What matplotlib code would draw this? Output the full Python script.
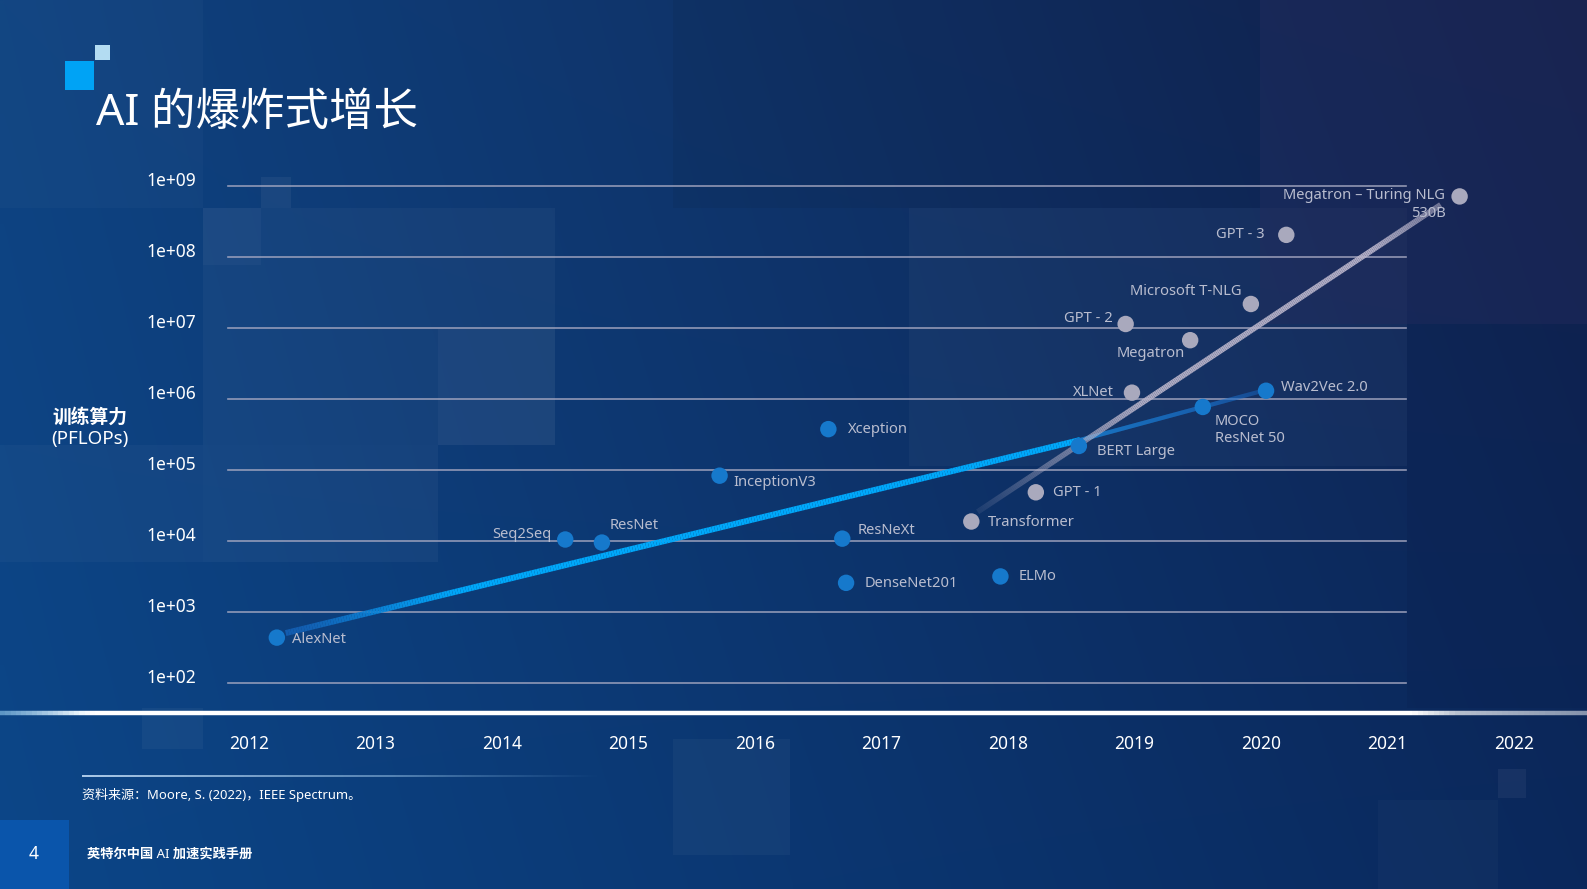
import matplotlib
matplotlib.use('Agg')
import matplotlib.pyplot as plt
import numpy as np
from matplotlib.collections import LineCollection
from matplotlib.patches import Rectangle
from matplotlib.colors import to_rgba

plt.rcParams['font.family'] = ['Noto Sans', 'Noto Sans CJK SC', 'DejaVu Sans']

# ---- data: year, training compute (PFLOPs) ----
blue_names = ['AlexNet', 'Seq2Seq', 'ResNet', 'InceptionV3', 'Xception', 'ResNeXt',
              'DenseNet201', 'ELMo', 'BERT Large', 'MOCO\nResNet 50', 'Wav2Vec 2.0']
blue_years = [2012.22, 2014.50, 2014.79, 2015.72, 2016.58, 2016.69,
              2016.72, 2017.94, 2018.56, 2019.54, 2020.04]
blue_pflops = [4.4e2, 1.06e4, 9.6e3, 8.4e4, 3.8e5, 1.09e4,
               2.6e3, 3.2e3, 2.2e5, 7.8e5, 1.32e6]

gray_names = ['Transformer', 'GPT - 1', 'XLNet', 'GPT - 2', 'Megatron',
              'Microsoft T-NLG', 'GPT - 3', 'Megatron – Turing NLG\n530B']
gray_years = [2017.71, 2018.22, 2018.98, 2018.93, 2019.44, 2019.92, 2020.20, 2021.57]
gray_pflops = [1.9e4, 4.9e4, 1.24e6, 1.15e7, 6.8e6, 2.2e7, 2.07e8, 7.2e8]

# trend lines
blue_trend_years = [2012.29, 2018.57, 2019.98]
blue_trend_pflops = [5.1e2, 2.67e5, 1.27e6]
gray_trend_years = [2017.76, 2021.42]
gray_trend_pflops = [2.6e4, 5.5e8]

x_ticks = list(range(2012, 2023))
y_ticks = [1e2, 1e3, 1e4, 1e5, 1e6, 1e7, 1e8, 1e9]
y_tick_labels = ['1e+02', '1e+03', '1e+04', '1e+05', '1e+06', '1e+07', '1e+08', '1e+09']

# label offsets (pixels, right/up) and alignment
blue_offsets = [(15, -2), (-14, 5), (8, 17), (14, -7), (19, 0), (15, 8),
                (18, -1), (18, 0), (18, -5), (12, -23), (15, 3)]
blue_ha = ['left', 'right', 'left', 'left', 'left', 'left',
           'left', 'left', 'left', 'left', 'left']
gray_offsets = [(16, -1), (17, 0), (-18, 0), (-13, 5), (-5, -13), (-9, 12), (-21, 0), (-14, -8)]
gray_ha = ['left', 'left', 'right', 'right', 'right', 'right', 'right', 'right']

W, H = 1587, 889
fig = plt.figure(figsize=(W / 100, H / 100), dpi=100)

# ---- background ----
bg = fig.add_axes([0, 0, 1, 1], zorder=0)
bg.set_xlim(0, W)
bg.set_ylim(H, 0)
bg.axis('off')
tl = np.array([14, 66, 128]) / 255
tr = np.array([18, 34, 78]) / 255
bl = np.array([12, 70, 136]) / 255
br = np.array([10, 40, 92]) / 255
gx = np.linspace(0, 1, 200)[None, :, None]
gy = np.linspace(0, 1, 120)[:, None, None]
grad = (1 - gy) * ((1 - gx) * tl + gx * tr) + gy * ((1 - gx) * bl + gx * br)
bg.imshow(grad, extent=(0, W, H, 0), aspect='auto', interpolation='bilinear')

blocks = [
    (0, 0, 203, 208, 'white', 0.025),
    (203, 208, 555, 445, 'white', 0.035),
    (261, 177, 291, 208, 'white', 0.05),
    (203, 208, 261, 265, 'white', 0.03),
    (438, 329, 555, 445, 'white', 0.03),
    (0, 445, 203, 562, 'white', 0.03),
    (203, 445, 438, 562, 'white', 0.04),
    (909, 208, 1407, 466, 'white', 0.03),
    (673, 0, 1260, 208, 'black', 0.05),
    (1260, 0, W, 324, '#2a2a5a', 0.3),
    (1407, 324, W, 708, '#0a1a45', 0.15),
    (673, 739, 790, 855, 'white', 0.035),
    (142, 708, 203, 749, 'white', 0.04),
    (1378, 800, 1498, H, 'white', 0.025),
    (1498, 769, 1526, 798, 'white', 0.05),
]
for x0, y0, x1, y1, c, a in blocks:
    bg.add_patch(Rectangle((x0, y0), x1 - x0, y1 - y0, color=c, alpha=a, lw=0))

# logo squares
bg.add_patch(Rectangle((65, 61), 29, 29, color='#00a3f5', lw=0))
bg.add_patch(Rectangle((95, 45), 15, 15, color='#b3dcf2', lw=0))

# page box
bg.add_patch(Rectangle((0, 820), 69, 69, color='#0a55ab', lw=0))


def fade_line(ax, x0, y0, x1, y1, c0, c1, c_t, a_t, a_v, lw, n=300, log=False):
    t = np.linspace(0, 1, n + 1)
    xs = x0 + t * (x1 - x0)
    if log:
        ly0, ly1 = np.log10(y0), np.log10(y1)
        ys = 10 ** (ly0 + t * (ly1 - ly0))
    else:
        ys = y0 + t * (y1 - y0)
    pts = np.column_stack([xs, ys])
    segs = np.stack([pts[:-1], pts[1:]], axis=1)
    tm = (t[:-1] + t[1:]) / 2
    ca, cb = np.array(to_rgba(c0)), np.array(to_rgba(c1))
    f = np.interp(tm, c_t, [0, 1])[:, None]
    cols = (1 - f) * ca + f * cb
    cols[:, 3] = np.interp(tm, a_t, a_v)
    lc = LineCollection(segs, colors=cols, linewidths=lw, capstyle='butt')
    ax.add_collection(lc)
    return lc


# bottom axis line and footer line (pixel coords)
fade_line(bg, 0, 712.6, 1587, 712.6, '#8fc8ee', '#ffffff', [0, 0.06],
          [0, 0.05, 0.89, 0.92, 1], [0.6, 1, 1, 0.7, 0.5], 3.2)
fade_line(bg, 82, 776, 600, 776, '#d0e8ff', '#6aa0d0', [0, 1], [0, 0.6, 1], [0.9, 0.6, 0.0], 1.3)

# ---- texts ----
bg.text(96, 114, 'AI 的爆炸式增长', color='white', fontsize=32, va='center', ha='left')
bg.text(90, 428, '训练算力\n(PFLOPs)', color='white', fontsize=13.5, ha='center', va='center',
        linespacing=1.2, fontweight='bold')
bg.text(82, 795, '资料来源：Moore, S. (2022)，IEEE Spectrum。', color='white', fontsize=9.4,
        va='center', ha='left')
bg.text(34, 854, '4', color='white', fontsize=12.5, va='center', ha='center')
bg.text(87, 854, '英特尔中国 AI 加速实践手册', color='white', fontsize=9.5, va='center', ha='left',
        fontweight='bold')

# ---- chart ----
ax = fig.add_axes([0, (H - 712.6) / H, 1, 562.6 / H], zorder=1)
ax.patch.set_alpha(0)
ax.set_yscale('log')
ax.set_xlim(2012 - 249 / 126.5, 2012 + (W - 249) / 126.5)
ax.set_ylim(10 ** (2 - 29.3 / 71), 10 ** (2 + 533.3 / 71))
for s in ax.spines.values():
    s.set_visible(False)
ax.set_yticks([])
ax.set_yticks([], minor=True)
ax.set_xticks(x_ticks, [str(y) for y in x_ticks])
ax.tick_params(axis='x', length=0, pad=16, labelcolor='white', labelsize=12.5)

for v, lab in zip(y_ticks, y_tick_labels):
    ax.axhline(v, xmin=228 / W, xmax=1406 / W, color='#a7a9c2', lw=1.2, alpha=0.85, zorder=1)
    ax.annotate(lab, xy=(196 / W, v), xycoords=('axes fraction', 'data'), xytext=(0, 3.6),
                textcoords='offset points', ha='right', va='center', color='white', fontsize=12.5)

# trend lines
fade_line(ax, blue_trend_years[0], blue_trend_pflops[0], blue_trend_years[1], blue_trend_pflops[1],
          '#1462b8', '#00a8fa', [0.02, 0.22], [0, 0.15, 1], [0.85, 1, 1], 4.3, log=True)
fade_line(ax, blue_trend_years[1], blue_trend_pflops[1], blue_trend_years[2], blue_trend_pflops[2],
          '#1a8ae0', '#1a68c4', [0, 1], [0, 0.7, 1], [1, 0.9, 0.55], 3.0, log=True)
fade_line(ax, gray_trend_years[0], gray_trend_pflops[0], gray_trend_years[1], gray_trend_pflops[1],
          '#b4b0c6', '#bab5cb', [0, 1], [0, 0.35, 0.85, 1], [0.1, 0.95, 0.95, 0.55], 4.0, log=True)

ax.scatter(blue_years, blue_pflops, s=140, color='#1679cc', edgecolors='none', zorder=4)
ax.scatter(gray_years, gray_pflops, s=140, color='#a9a9bd', edgecolors='none', zorder=4)

k = 1.012 * 0.72
for n, x, y, (dx, dy), ha in zip(blue_names, blue_years, blue_pflops, blue_offsets, blue_ha):
    ax.annotate(n, xy=(x, y), xytext=(dx * k, dy * k), textcoords='offset points', ha=ha,
                va='center', color='#b9bdcf', fontsize=10.6, multialignment=ha, zorder=5)
for n, x, y, (dx, dy), ha in zip(gray_names, gray_years, gray_pflops, gray_offsets, gray_ha):
    ax.annotate(n, xy=(x, y), xytext=(dx * k, dy * k), textcoords='offset points', ha=ha,
                va='center', color='#b9bdcf', fontsize=10.6, multialignment=ha, zorder=5)

fig.savefig('out.png', dpi=100)
